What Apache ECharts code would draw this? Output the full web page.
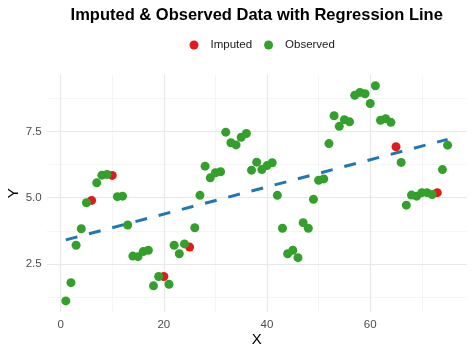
<!DOCTYPE html>
<html>
<head>
<meta charset="utf-8">
<script src="https://cdn.jsdelivr.net/npm/echarts@6/dist/echarts.min.js"></script>
<style>html,body{margin:0;padding:0;background:#fff;}#c{width:474px;height:355px;}</style>
</head>
<body>
<div id="c"></div>
<script>
// x values 1..75
const xValues = [1,2,3,4,5,6,7,8,9,10,11,12,13,14,15,16,17,18,19,20,21,22,23,24,25,26,27,28,29,30,31,32,33,34,35,36,37,38,39,40,41,42,43,44,45,46,47,48,49,50,51,52,53,54,55,56,57,58,59,60,61,62,63,64,65,66,67,68,69,70,71,72,73,74,75];
const yValues = [1.11,1.80,3.21,3.83,4.81,4.90,5.56,5.85,5.88,5.84,5.04,5.06,3.97,2.80,2.78,2.97,3.02,1.68,2.03,2.03,1.74,3.21,2.89,3.26,3.14,3.87,5.09,6.19,5.75,5.94,5.98,7.47,7.07,6.99,7.28,7.42,6.04,6.34,6.06,6.21,6.32,5.09,3.85,2.89,3.02,2.74,4.06,3.85,4.94,5.66,5.71,7.04,8.09,7.69,7.94,7.86,8.86,8.97,8.92,8.55,9.22,7.92,7.98,7.84,6.92,6.33,4.72,5.10,5.06,5.19,5.19,5.12,5.19,6.06,6.98];
const imputedX = [6,10,20,25,65,73];
const regX = [1,75];
const regY = [3.41,7.20];
const xTicks = [0,20,40,60];
const xMinor = [10,30,50,70];
const yTicks = [2.5,5.0,7.5];
const yMinor = [1.25,3.75,6.25,8.75];

const imputedData = [], observedData = [];
xValues.forEach((x,i) => {
  (imputedX.includes(x) ? imputedData : observedData).push([x, yValues[i]]);
});
const xr = Math.max(...xValues) - Math.min(...xValues);
const yr = Math.max(...yValues) - Math.min(...yValues);
const xMin = Math.min(...xValues) - 0.05*xr, xMax = Math.max(...xValues) + 0.05*xr;
const yMin = Math.min(...yValues) - 0.05*yr, yMax = Math.max(...yValues) + 0.05*yr;

const font = '"Liberation Sans", Arial, sans-serif';
const gridLines = [].concat(
  xMinor.map(v => ({xAxis: v, lineStyle:{color:'#f2f2f2', width:0.8}})),
  yMinor.map(v => ({yAxis: v, lineStyle:{color:'#f2f2f2', width:0.8}})),
  xTicks.map(v => ({xAxis: v, lineStyle:{color:'#e8e8e8', width:1.2}})),
  yTicks.map(v => ({yAxis: v, lineStyle:{color:'#e8e8e8', width:1.2}}))
);

const chart = echarts.init(document.getElementById('c'), null, {renderer:'canvas'});
chart.setOption({
  animation: false,
  backgroundColor: '#ffffff',
  title: {
    text: 'Imputed & Observed Data with Regression Line',
    left: 256.7, top: 7, textAlign: 'center', padding: 0,
    textStyle: {fontFamily: font, fontSize: 16.5, fontWeight: 'bold', color: '#000'}
  },
  legend: {
    data: ['Imputed','Observed'],
    left: 189.5, top: 39, padding: 0,
    icon: 'circle', itemWidth: 9, itemHeight: 9, itemGap: 12,
    textStyle: {fontFamily: font, fontSize: 11.5, color: '#1a1a1a', padding: [0,0,0,7]}
  },
  grid: {left: 46.7, right: 7.3, top: 75, bottom: 43.3, containLabel: false, outerBoundsMode: 'none'},
  xAxis: {
    type: 'value', min: xMin, max: xMax,
    name: 'X', nameLocation: 'middle', nameGap: 21, nameMoveOverlap: false,
    nameTextStyle: {fontFamily: font, fontSize: 15, color: '#000'},
    axisLine: {show: false}, axisTick: {show: false},
    splitLine: {show: false},
    axisLabel: {customValues: xTicks, fontFamily: font, fontSize: 11.5, color: '#4d4d4d', margin: 7,
      formatter: v => String(Math.round(v))}
  },
  yAxis: {
    type: 'value', min: yMin, max: yMax,
    name: 'Y', nameLocation: 'middle', nameGap: 25, nameRotate: 90, nameMoveOverlap: false,
    nameTextStyle: {fontFamily: font, fontSize: 15, color: '#000'},
    axisLine: {show: false}, axisTick: {show: false},
    splitLine: {show: false},
    axisLabel: {customValues: yTicks, fontFamily: font, fontSize: 11.5, color: '#4d4d4d', margin: 5,
      formatter: v => v.toFixed(1)}
  },
  series: [
    {
      name: 'grid', type: 'line', data: [], silent: true, z: 0,
      markLine: {silent: true, symbol: 'none', z: 0, animation: false,
        label: {show: false}, lineStyle: {type: 'solid'}, data: gridLines}
    },
    {
      name: 'Imputed', type: 'scatter', data: imputedData, symbolSize: 9, z: 3,
      itemStyle: {color: '#e31a1c', opacity: 1}
    },
    {
      name: 'Observed', type: 'scatter', data: observedData, symbolSize: 9, z: 3,
      itemStyle: {color: '#33a02c', opacity: 1}
    },
    {
      name: 'Regression', type: 'line', data: regX.map((x,i)=>[x, regY[i]]),
      symbol: 'none', z: 4, silent: true,
      lineStyle: {color: '#1f77b4', width: 3, type: [12, 12]}
    }
  ]
});
</script>
</body>
</html>
